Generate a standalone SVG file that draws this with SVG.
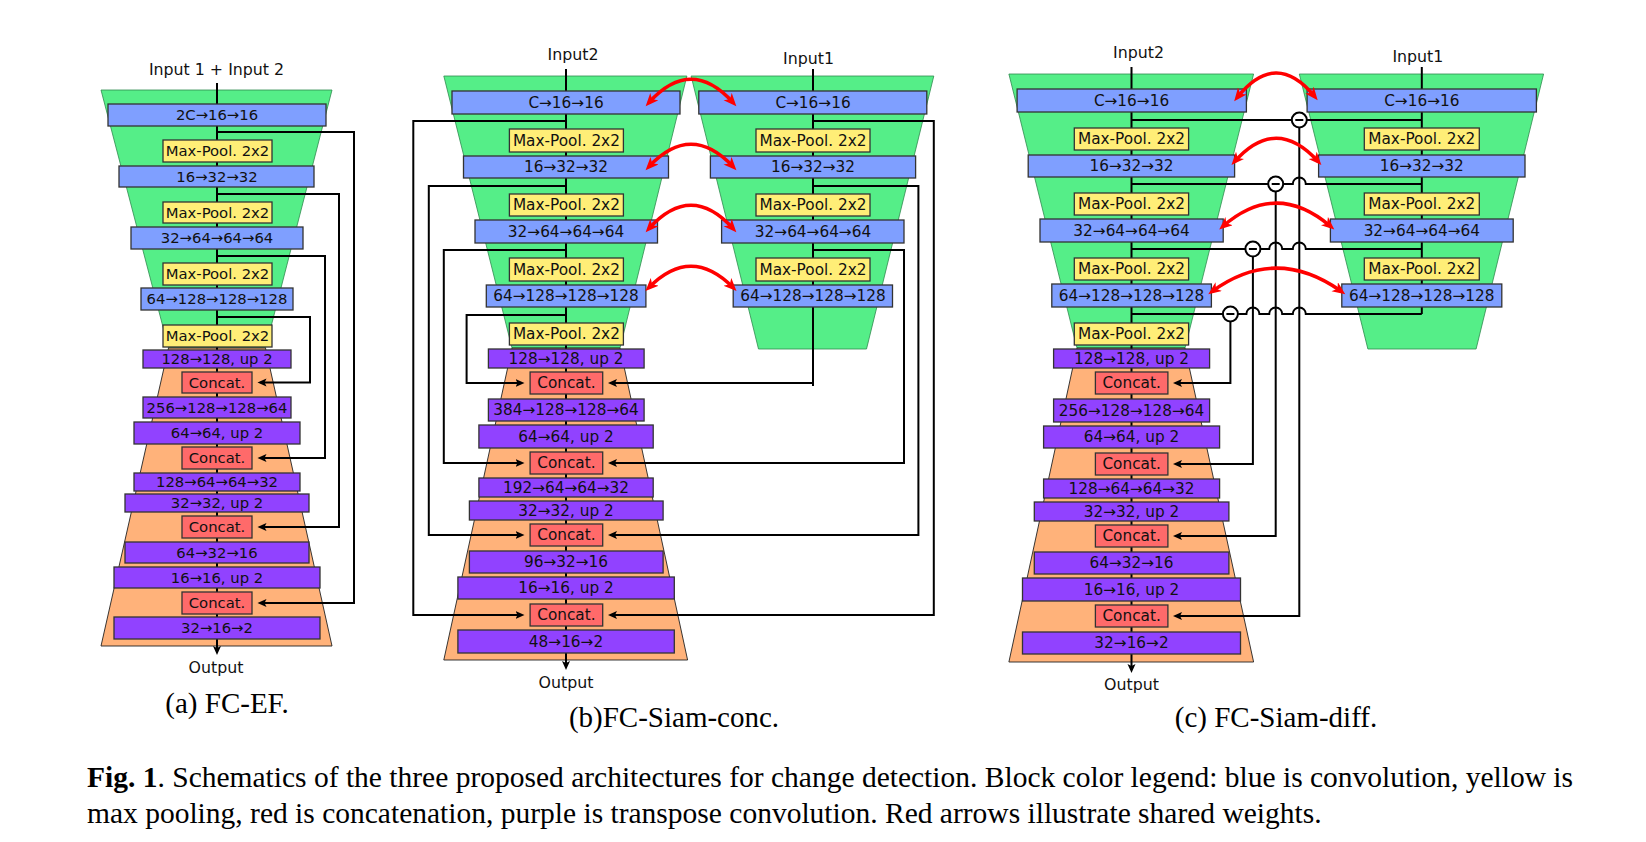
<svg xmlns="http://www.w3.org/2000/svg" width="1646" height="842" viewBox="0 0 1646 842">
<style>
.g{fill:#55ee88;stroke:#2e8a4e;stroke-width:0.8}
.o{fill:#ffb27a;stroke:#222;stroke-width:0.9}
.b{fill:#7f9fff;stroke:#333;stroke-width:1.3}
.y{fill:#ffee77;stroke:#333;stroke-width:1.3}
.p{fill:#9142ff;stroke:#333;stroke-width:1.3}
.c{fill:#ff6a6a;stroke:#333;stroke-width:1.3}
.t{font-family:"DejaVu Sans",sans-serif;font-size:15.3px;fill:#111;text-anchor:middle}
.ta{font-size:14.8px}
.io{font-family:"DejaVu Sans",sans-serif;font-size:15.8px;fill:#111;text-anchor:middle}
.sc{font-family:"Liberation Serif","Times New Roman",serif;font-size:29px;fill:#000;text-anchor:middle}
.cap{font-family:"Liberation Serif","Times New Roman",serif;font-size:29.5px;fill:#000}
.w{fill:none;stroke:#000;stroke-width:2}
.a{marker-end:url(#ah)}
.r{fill:none;stroke:#ff0000;stroke-width:3.5;marker-start:url(#ra);marker-end:url(#ra)}
.m{fill:#fff;stroke:#000;stroke-width:2}
</style>
<defs>
<marker id="ah" markerUnits="userSpaceOnUse" markerWidth="10" markerHeight="9" refX="6" refY="4" orient="auto">
<path d="M0,0 L9,4 L0,8 L2,4 z" fill="#000"/>
</marker>
<marker id="ra" markerUnits="userSpaceOnUse" markerWidth="14" markerHeight="12" refX="8" refY="5.5" orient="auto-start-reverse">
<path d="M0,0 L13,5.5 L0,11 L3.5,5.5 z" fill="#ff0000"/>
</marker>
</defs>
<rect width="1646" height="842" fill="#fff"/>

<!-- backgrounds -->
<g id="bg">
<polygon class="g" points="101,90 332,90 265.5,348 168.5,348"/>
<polygon class="o" points="168.5,348 265.5,348 332,646 101,646"/>
<polygon class="g" points="443.8,76 686.9,76 620,348 512,348"/>
<polygon class="o" points="512,348 620,348 687.6,660 443.8,660"/>
<polygon class="g" points="691.1,76 933.8,76 866.5,349 758.5,349"/>
<polygon class="g" points="1008.9,74 1253.6,74 1185,348 1077,348"/>
<polygon class="o" points="1077,348 1185,348 1253.6,662 1008.9,662"/>
<polygon class="g" points="1299.3,74 1543.6,74 1476.1,349 1367.9,349"/>
</g>

<!-- connectors -->
<g id="connectors">
<path class="w a" d="M217,83 V652"/>
<path class="w a" d="M217,132 H354 V603 H260.5"/>
<path class="w a" d="M217,194 H339 V527 H260.5"/>
<path class="w a" d="M217,256 H325 V458 H260.5"/>
<path class="w a" d="M217,317 H310 V382.5 H260.5"/>

<path class="w a" d="M566,69 V667"/>
<path class="w a" d="M813,69 V386 M813,383 H611"/>
<path class="w a" d="M566,121 H413.3 V615 H521.5"/>
<path class="w a" d="M566,186 H428.8 V535 H521.5"/>
<path class="w a" d="M566,250 H443.8 V463 H521.5"/>
<path class="w a" d="M566,315 H466.6 V383 H521.5"/>
<path class="w a" d="M813,121 H933.8 V615 H611"/>
<path class="w a" d="M813,186 H918.4 V535 H611"/>
<path class="w a" d="M813,250 H904 V463 H611"/>

<path class="w a" d="M1131.5,67 V670"/>
<path class="w" d="M1421.8,67 V314"/>
<path class="w" d="M1131.5,120 H1421.8"/>
<path class="w" d="M1131.5,184 H1292.8 A6.5,6.5 0 0 1 1305.8,184 H1421.8"/>
<path class="w" d="M1131.5,249 H1269.2 A6.5,6.5 0 0 1 1282.2,249 H1292.8 A6.5,6.5 0 0 1 1305.8,249 H1421.8"/>
<path class="w" d="M1131.5,314 H1246.4 A6.5,6.5 0 0 1 1259.4,314 H1269.2 A6.5,6.5 0 0 1 1282.2,314 H1292.8 A6.5,6.5 0 0 1 1305.8,314 H1421.8"/>
<path class="w a" d="M1299.3,127.5 V616 H1176"/>
<path class="w a" d="M1275.7,191.5 V536 H1176"/>
<path class="w a" d="M1252.9,256.5 V464 H1176"/>
<path class="w a" d="M1230.4,321.5 V383 H1176"/>
</g>

<!-- panel (a) -->
<g id="a-input"><text class="io" x="216.5" y="75">Input 1 + Input 2</text></g>
<g id="a-conv1"><rect class="b" x="108" y="104" width="218" height="22"/><text class="t ta" x="217" y="120.3">2C→16→16</text></g>
<g id="a-pool1"><rect class="y" x="163" y="140" width="109" height="22"/><text class="t ta" x="217.5" y="156.3">Max-Pool. 2x2</text></g>
<g id="a-conv2"><rect class="b" x="119" y="166" width="195" height="21"/><text class="t ta" x="217" y="181.8">16→32→32</text></g>
<g id="a-pool2"><rect class="y" x="163" y="202" width="109" height="21"/><text class="t ta" x="217.5" y="217.8">Max-Pool. 2x2</text></g>
<g id="a-conv3"><rect class="b" x="131" y="227" width="172" height="22"/><text class="t ta" x="217" y="243.3">32→64→64→64</text></g>
<g id="a-pool3"><rect class="y" x="163" y="263" width="109" height="22"/><text class="t ta" x="217.5" y="279.3">Max-Pool. 2x2</text></g>
<g id="a-conv4"><rect class="b" x="141" y="288" width="152" height="22"/><text class="t ta" x="217" y="304.3">64→128→128→128</text></g>
<g id="a-pool4"><rect class="y" x="163" y="325" width="109" height="22"/><text class="t ta" x="217.5" y="341.3">Max-Pool. 2x2</text></g>
<g id="a-up1"><rect class="p" x="143" y="350" width="148" height="18"/><text class="t ta" x="217" y="364.3">128→128, up 2</text></g>
<g id="a-cat1"><rect class="c" x="182" y="372" width="70" height="21"/><text class="t ta" x="217" y="387.8">Concat.</text></g>
<g id="a-dec1"><rect class="p" x="143" y="397" width="148" height="21"/><text class="t ta" x="217" y="412.8">256→128→128→64</text></g>
<g id="a-up2"><rect class="p" x="134" y="422" width="166" height="22"/><text class="t ta" x="217" y="438.3">64→64, up 2</text></g>
<g id="a-cat2"><rect class="c" x="182" y="447" width="70" height="22"/><text class="t ta" x="217" y="463.3">Concat.</text></g>
<g id="a-dec2"><rect class="p" x="134" y="473" width="166" height="18"/><text class="t ta" x="217" y="487.3">128→64→64→32</text></g>
<g id="a-up3"><rect class="p" x="125" y="494" width="184" height="18"/><text class="t ta" x="217" y="508.3">32→32, up 2</text></g>
<g id="a-cat3"><rect class="c" x="182" y="516" width="70" height="22"/><text class="t ta" x="217" y="532.3">Concat.</text></g>
<g id="a-dec3"><rect class="p" x="125" y="542" width="184" height="21"/><text class="t ta" x="217" y="557.8">64→32→16</text></g>
<g id="a-up4"><rect class="p" x="114" y="567" width="206" height="21"/><text class="t ta" x="217" y="582.8">16→16, up 2</text></g>
<g id="a-cat4"><rect class="c" x="182" y="592" width="70" height="22"/><text class="t ta" x="217" y="608.3">Concat.</text></g>
<g id="a-out"><rect class="p" x="114" y="617" width="206" height="22"/><text class="t ta" x="217" y="633.3">32→16→2</text></g>
<g id="a-output"><text class="io" x="216" y="673">Output</text></g>
<g id="a-caption"><text class="sc" x="227" y="713">(a) FC-EF.</text></g>

<!-- panel (b) -->
<g id="b-input2"><text class="io" x="573" y="60">Input2</text></g>
<g id="b-input1"><text class="io" x="808.6" y="64">Input1</text></g>
<g id="b-l-conv1"><rect class="b" x="452" y="91" width="228" height="23"/><text class="t" x="566" y="107.8">C→16→16</text></g>
<g id="b-l-pool1"><rect class="y" x="509.4" y="129" width="114" height="23"/><text class="t" x="566.4" y="145.8">Max-Pool. 2x2</text></g>
<g id="b-l-conv2"><rect class="b" x="463.5" y="156" width="205" height="22"/><text class="t" x="566" y="172.3">16→32→32</text></g>
<g id="b-l-pool2"><rect class="y" x="509.4" y="194" width="114" height="22"/><text class="t" x="566.4" y="210.3">Max-Pool. 2x2</text></g>
<g id="b-l-conv3"><rect class="b" x="475" y="220" width="182.5" height="23"/><text class="t" x="566" y="236.8">32→64→64→64</text></g>
<g id="b-l-pool3"><rect class="y" x="509.4" y="258" width="114" height="23"/><text class="t" x="566.4" y="274.8">Max-Pool. 2x2</text></g>
<g id="b-l-conv4"><rect class="b" x="486.3" y="285" width="159.6" height="22"/><text class="t" x="566" y="301.3">64→128→128→128</text></g>
<g id="b-l-pool4"><rect class="y" x="509.4" y="323" width="114" height="22"/><text class="t" x="566.4" y="339.3">Max-Pool. 2x2</text></g>
<g id="b-r-conv1"><rect class="b" x="698.8" y="91" width="228" height="23"/><text class="t" x="813" y="107.8">C→16→16</text></g>
<g id="b-r-pool1"><rect class="y" x="756" y="129" width="114" height="23"/><text class="t" x="813" y="145.8">Max-Pool. 2x2</text></g>
<g id="b-r-conv2"><rect class="b" x="710.4" y="156" width="205.2" height="22"/><text class="t" x="813" y="172.3">16→32→32</text></g>
<g id="b-r-pool2"><rect class="y" x="756" y="194" width="114" height="22"/><text class="t" x="813" y="210.3">Max-Pool. 2x2</text></g>
<g id="b-r-conv3"><rect class="b" x="721.6" y="220" width="182.4" height="23"/><text class="t" x="813" y="236.8">32→64→64→64</text></g>
<g id="b-r-pool3"><rect class="y" x="756" y="258" width="114" height="23"/><text class="t" x="813" y="274.8">Max-Pool. 2x2</text></g>
<g id="b-r-conv4"><rect class="b" x="733.2" y="285" width="159.3" height="22"/><text class="t" x="813" y="301.3">64→128→128→128</text></g>
<g id="b-up1"><rect class="p" x="488.4" y="349" width="155.7" height="19"/><text class="t" x="566" y="363.8">128→128, up 2</text></g>
<g id="b-cat1"><rect class="c" x="530.1" y="372" width="72.6" height="22"/><text class="t" x="566.4" y="388.3">Concat.</text></g>
<g id="b-dec1"><rect class="p" x="488.4" y="399" width="155.7" height="22"/><text class="t" x="566" y="415.3">384→128→128→64</text></g>
<g id="b-up2"><rect class="p" x="478.9" y="425" width="174.3" height="23"/><text class="t" x="566" y="441.8">64→64, up 2</text></g>
<g id="b-cat2"><rect class="c" x="530.1" y="452" width="72.6" height="22"/><text class="t" x="566.4" y="468.3">Concat.</text></g>
<g id="b-dec2"><rect class="p" x="478.9" y="478" width="174.3" height="19"/><text class="t" x="566" y="492.8">192→64→64→32</text></g>
<g id="b-up3"><rect class="p" x="469.4" y="501" width="193.7" height="19"/><text class="t" x="566" y="515.8">32→32, up 2</text></g>
<g id="b-cat3"><rect class="c" x="530.1" y="524" width="72.6" height="22"/><text class="t" x="566.4" y="540.3">Concat.</text></g>
<g id="b-dec3"><rect class="p" x="469.4" y="551" width="193.7" height="22"/><text class="t" x="566" y="567.3">96→32→16</text></g>
<g id="b-up4"><rect class="p" x="457.9" y="577" width="216.4" height="22"/><text class="t" x="566" y="593.3">16→16, up 2</text></g>
<g id="b-cat4"><rect class="c" x="530.1" y="604" width="72.6" height="22"/><text class="t" x="566.4" y="620.3">Concat.</text></g>
<g id="b-out"><rect class="p" x="457.9" y="630" width="216.4" height="23"/><text class="t" x="566" y="646.8">48→16→2</text></g>
<g id="b-output"><text class="io" x="566" y="688">Output</text></g>
<g id="b-caption"><text class="sc" x="674" y="727">(b)FC-Siam-conc.</text></g>

<!-- panel (c) -->
<g id="c-input2"><text class="io" x="1138.6" y="58">Input2</text></g>
<g id="c-input1"><text class="io" x="1417.9" y="62">Input1</text></g>
<g id="c-l-conv1"><rect class="b" x="1017.1" y="89" width="229.3" height="23"/><text class="t" x="1131.5" y="105.8">C→16→16</text></g>
<g id="c-l-pool1"><rect class="y" x="1074.3" y="128" width="114.3" height="22"/><text class="t" x="1131.5" y="144.3">Max-Pool. 2x2</text></g>
<g id="c-l-conv2"><rect class="b" x="1028.2" y="155" width="206.4" height="22"/><text class="t" x="1131.5" y="171.3">16→32→32</text></g>
<g id="c-l-pool2"><rect class="y" x="1074.3" y="193" width="114.3" height="22"/><text class="t" x="1131.5" y="209.3">Max-Pool. 2x2</text></g>
<g id="c-l-conv3"><rect class="b" x="1040" y="219" width="183.2" height="23"/><text class="t" x="1131.5" y="235.8">32→64→64→64</text></g>
<g id="c-l-pool3"><rect class="y" x="1074.3" y="258" width="114.3" height="22"/><text class="t" x="1131.5" y="274.3">Max-Pool. 2x2</text></g>
<g id="c-l-conv4"><rect class="b" x="1051.8" y="284" width="159.6" height="23"/><text class="t" x="1131.5" y="300.8">64→128→128→128</text></g>
<g id="c-l-pool4"><rect class="y" x="1074.3" y="323" width="114.3" height="22"/><text class="t" x="1131.5" y="339.3">Max-Pool. 2x2</text></g>
<g id="c-r-conv1"><rect class="b" x="1307.1" y="89" width="229.3" height="23"/><text class="t" x="1421.8" y="105.8">C→16→16</text></g>
<g id="c-r-pool1"><rect class="y" x="1364.3" y="128" width="115" height="22"/><text class="t" x="1421.8" y="144.3">Max-Pool. 2x2</text></g>
<g id="c-r-conv2"><rect class="b" x="1318.6" y="155" width="206.4" height="22"/><text class="t" x="1421.8" y="171.3">16→32→32</text></g>
<g id="c-r-pool2"><rect class="y" x="1364.3" y="193" width="115" height="22"/><text class="t" x="1421.8" y="209.3">Max-Pool. 2x2</text></g>
<g id="c-r-conv3"><rect class="b" x="1330.4" y="219" width="182.8" height="23"/><text class="t" x="1421.8" y="235.8">32→64→64→64</text></g>
<g id="c-r-pool3"><rect class="y" x="1364.3" y="258" width="115" height="22"/><text class="t" x="1421.8" y="274.3">Max-Pool. 2x2</text></g>
<g id="c-r-conv4"><rect class="b" x="1341.8" y="284" width="160" height="23"/><text class="t" x="1421.8" y="300.8">64→128→128→128</text></g>
<g id="c-up1"><rect class="p" x="1053.6" y="349" width="156" height="19"/><text class="t" x="1131.5" y="363.8">128→128, up 2</text></g>
<g id="c-cat1"><rect class="c" x="1095.4" y="372" width="72.5" height="22"/><text class="t" x="1131.6" y="388.3">Concat.</text></g>
<g id="c-dec1"><rect class="p" x="1053.6" y="399" width="156" height="23"/><text class="t" x="1131.5" y="415.8">256→128→128→64</text></g>
<g id="c-up2"><rect class="p" x="1043.6" y="426" width="176" height="22"/><text class="t" x="1131.5" y="442.3">64→64, up 2</text></g>
<g id="c-cat2"><rect class="c" x="1095.4" y="453" width="72.5" height="22"/><text class="t" x="1131.6" y="469.3">Concat.</text></g>
<g id="c-dec2"><rect class="p" x="1043.6" y="479" width="176" height="19"/><text class="t" x="1131.5" y="493.8">128→64→64→32</text></g>
<g id="c-up3"><rect class="p" x="1034.3" y="502" width="194.6" height="19"/><text class="t" x="1131.5" y="516.8">32→32, up 2</text></g>
<g id="c-cat3"><rect class="c" x="1095.4" y="525" width="72.5" height="22"/><text class="t" x="1131.6" y="541.3">Concat.</text></g>
<g id="c-dec3"><rect class="p" x="1034.3" y="552" width="194.6" height="22"/><text class="t" x="1131.5" y="568.3">64→32→16</text></g>
<g id="c-up4"><rect class="p" x="1022.5" y="578" width="218" height="23"/><text class="t" x="1131.5" y="594.8">16→16, up 2</text></g>
<g id="c-cat4"><rect class="c" x="1095.4" y="605" width="72.5" height="22"/><text class="t" x="1131.6" y="621.3">Concat.</text></g>
<g id="c-out"><rect class="p" x="1022.5" y="632" width="218" height="22"/><text class="t" x="1131.5" y="648.3">32→16→2</text></g>
<g id="c-output"><text class="io" x="1131.5" y="690">Output</text></g>
<g id="c-caption"><text class="sc" x="1276" y="727">(c) FC-Siam-diff.</text></g>

<g id="c-diff1"><circle class="m" cx="1299.3" cy="120" r="7.5"/><path class="w" d="M1295.3,120 H1303.3"/></g>
<g id="c-diff2"><circle class="m" cx="1275.7" cy="184" r="7.5"/><path class="w" d="M1271.7,184 H1279.7"/></g>
<g id="c-diff3"><circle class="m" cx="1252.9" cy="249" r="7.5"/><path class="w" d="M1248.9,249 H1256.9"/></g>
<g id="c-diff4"><circle class="m" cx="1230.4" cy="314" r="7.5"/><path class="w" d="M1226.4,314 H1234.4"/></g>

<!-- shared weight arrows -->
<g id="shared-weights">
<path class="r" d="M649,102.5 Q691,56 733,102.5"/>
<path class="r" d="M649,166.5 Q691,122 733,166.5"/>
<path class="r" d="M649,228.5 Q691,182 733,228.5"/>
<path class="r" d="M649,287.5 Q691,245 733,287.5"/>
<path class="r" d="M1237.3,97.3 Q1276,49 1314.5,96.3"/>
<path class="r" d="M1234.8,161.3 Q1276,115 1318,161.3"/>
<path class="r" d="M1223,226.3 Q1276,180 1330.5,226.3"/>
<path class="r" d="M1212.3,291.3 Q1276,245 1341.2,291.3"/>
</g>

<g id="figure-caption">
<text class="cap" x="87" y="787"><tspan font-weight="bold">Fig. 1</tspan>. Schematics of the three proposed architectures for change detection. Block color legend: blue is convolution, yellow is</text>
<text class="cap" x="87" y="823">max pooling, red is concatenation, purple is transpose convolution. Red arrows illustrate shared weights.</text>
</g>
</svg>
